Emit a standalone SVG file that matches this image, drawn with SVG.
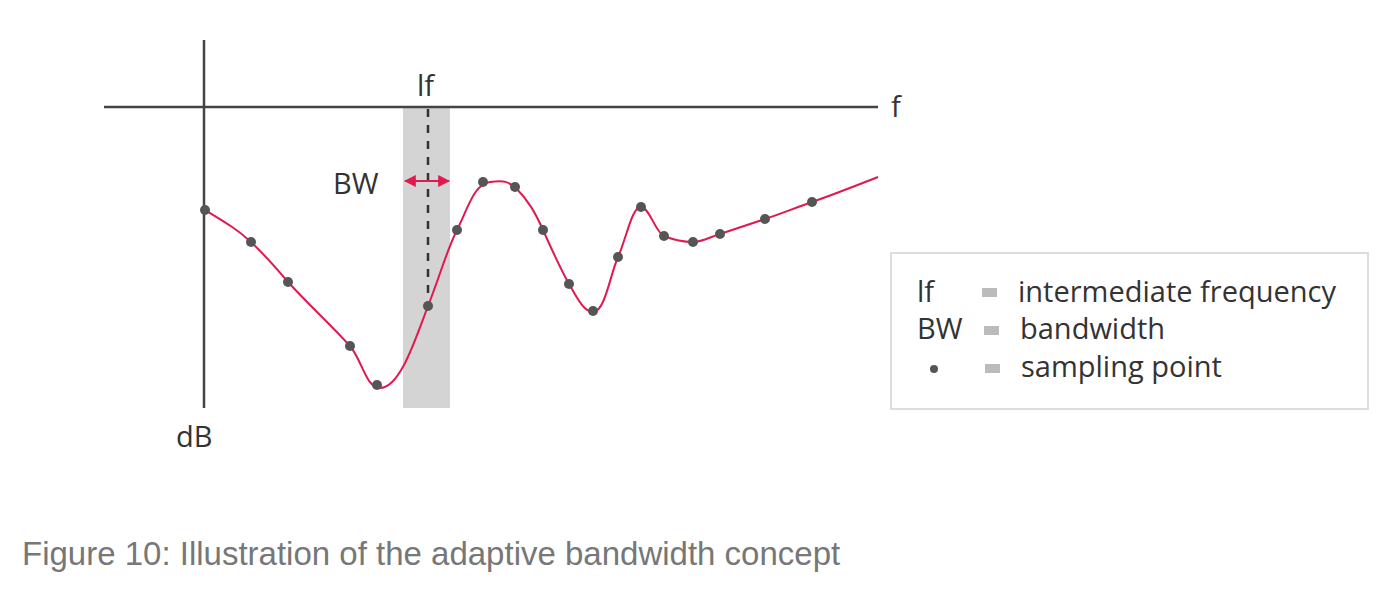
<svg xmlns="http://www.w3.org/2000/svg" width="1386" height="594" viewBox="0 0 1386 594">
<style>
.t{font-family:"Open Sans","Liberation Sans",sans-serif;fill:#333;font-size:29px}
.e{fill:#bbb}
.d{fill:#555}
</style>
<defs>
<marker id="ar" viewBox="0 0 10 10" refX="9" refY="5" markerWidth="6" markerHeight="6" orient="auto"><path d="M0,0L10,5L0,10z" fill="#e0194f"/></marker>
</defs>
<rect x="0" y="0" width="1386" height="594" fill="#fff"/>
<g id="band"><rect x="403" y="108" width="47" height="300" fill="#d4d4d4"/></g>
<g id="axes" stroke="#444" stroke-width="2.5">
<line x1="204" y1="40" x2="204" y2="408"/>
<line x1="104" y1="107" x2="878" y2="107"/>
</g>
<g id="connectors">
<line x1="428" y1="109" x2="428" y2="300" stroke="#333" stroke-width="2.5" stroke-dasharray="8,8"/>
<line x1="428" y1="181" x2="405" y2="181" stroke="#e0194f" stroke-width="2" marker-end="url(#ar)"/>
<line x1="428" y1="181" x2="449" y2="181" stroke="#e0194f" stroke-width="2" marker-end="url(#ar)"/>
<path d="M205,210 C228,224 238,230 251,242 C266,256 276,268 288,282 C310,306 330,324 350,346 C362,360 366,388 380,388 C400,388 415,340 428,306 C440,276 446,252 457,230 C468,208 474,184 490,182 C505,180 508,182 515,187 C528,200 535,212 543,230 C552,250 560,268 569,284 C577,298 584,312 593,312 C605,312 610,275 618,257 C626,240 632,206 641,207 C650,208 655,232 664,236 C674,240 684,242 693,242 C702,242 710,237 720,234 C735,229 750,224 765,219 C780,214 795,208 812,202 C835,194 855,186 878,177" fill="none" stroke="#e0194f" stroke-width="2"/>
</g>
<g id="points" class="d">
<circle cx="205" cy="210" r="5"/><circle cx="251" cy="242" r="5"/><circle cx="288" cy="282" r="5"/><circle cx="350" cy="346" r="5"/><circle cx="377" cy="385" r="5"/><circle cx="428" cy="306" r="5"/><circle cx="457" cy="230" r="5"/><circle cx="483" cy="182" r="5"/><circle cx="515" cy="187" r="5"/><circle cx="543" cy="230" r="5"/><circle cx="569" cy="284" r="5"/><circle cx="593" cy="311" r="5"/><circle cx="618" cy="257" r="5"/><circle cx="641" cy="207" r="5"/><circle cx="664" cy="236" r="5"/><circle cx="693" cy="242" r="5"/><circle cx="720" cy="234" r="5"/><circle cx="765" cy="219" r="5"/><circle cx="812" cy="202" r="5"/>
</g>
<g id="labels">
<text class="t" x="417" y="96">lf</text>
<text class="t" x="891" y="117">f</text>
<text class="t" x="333" y="194">BW</text>
<text class="t" x="176" y="447">dB</text>
</g>
<g id="legend">
<rect x="891" y="253" width="477" height="156" fill="#fff" stroke="#ddd" stroke-width="2"/>
<text class="t" x="917" y="302">lf</text>
<rect class="e" x="982" y="288" width="15" height="9"/>
<text class="t" x="1018" y="302">intermediate frequency</text>
<text class="t" x="917" y="339">BW</text>
<rect class="e" x="984" y="326" width="15" height="9"/>
<text class="t" x="1020" y="339">bandwidth</text>
<circle class="d" cx="934" cy="369" r="4"/>
<rect class="e" x="985" y="364" width="15" height="9"/>
<text class="t" x="1021" y="377">sampling point</text>
</g>
<text x="22" y="565" font-family="Liberation Sans, Arial, sans-serif" font-size="33" fill="#777">Figure 10: Illustration of the adaptive bandwidth concept</text>
</svg>
